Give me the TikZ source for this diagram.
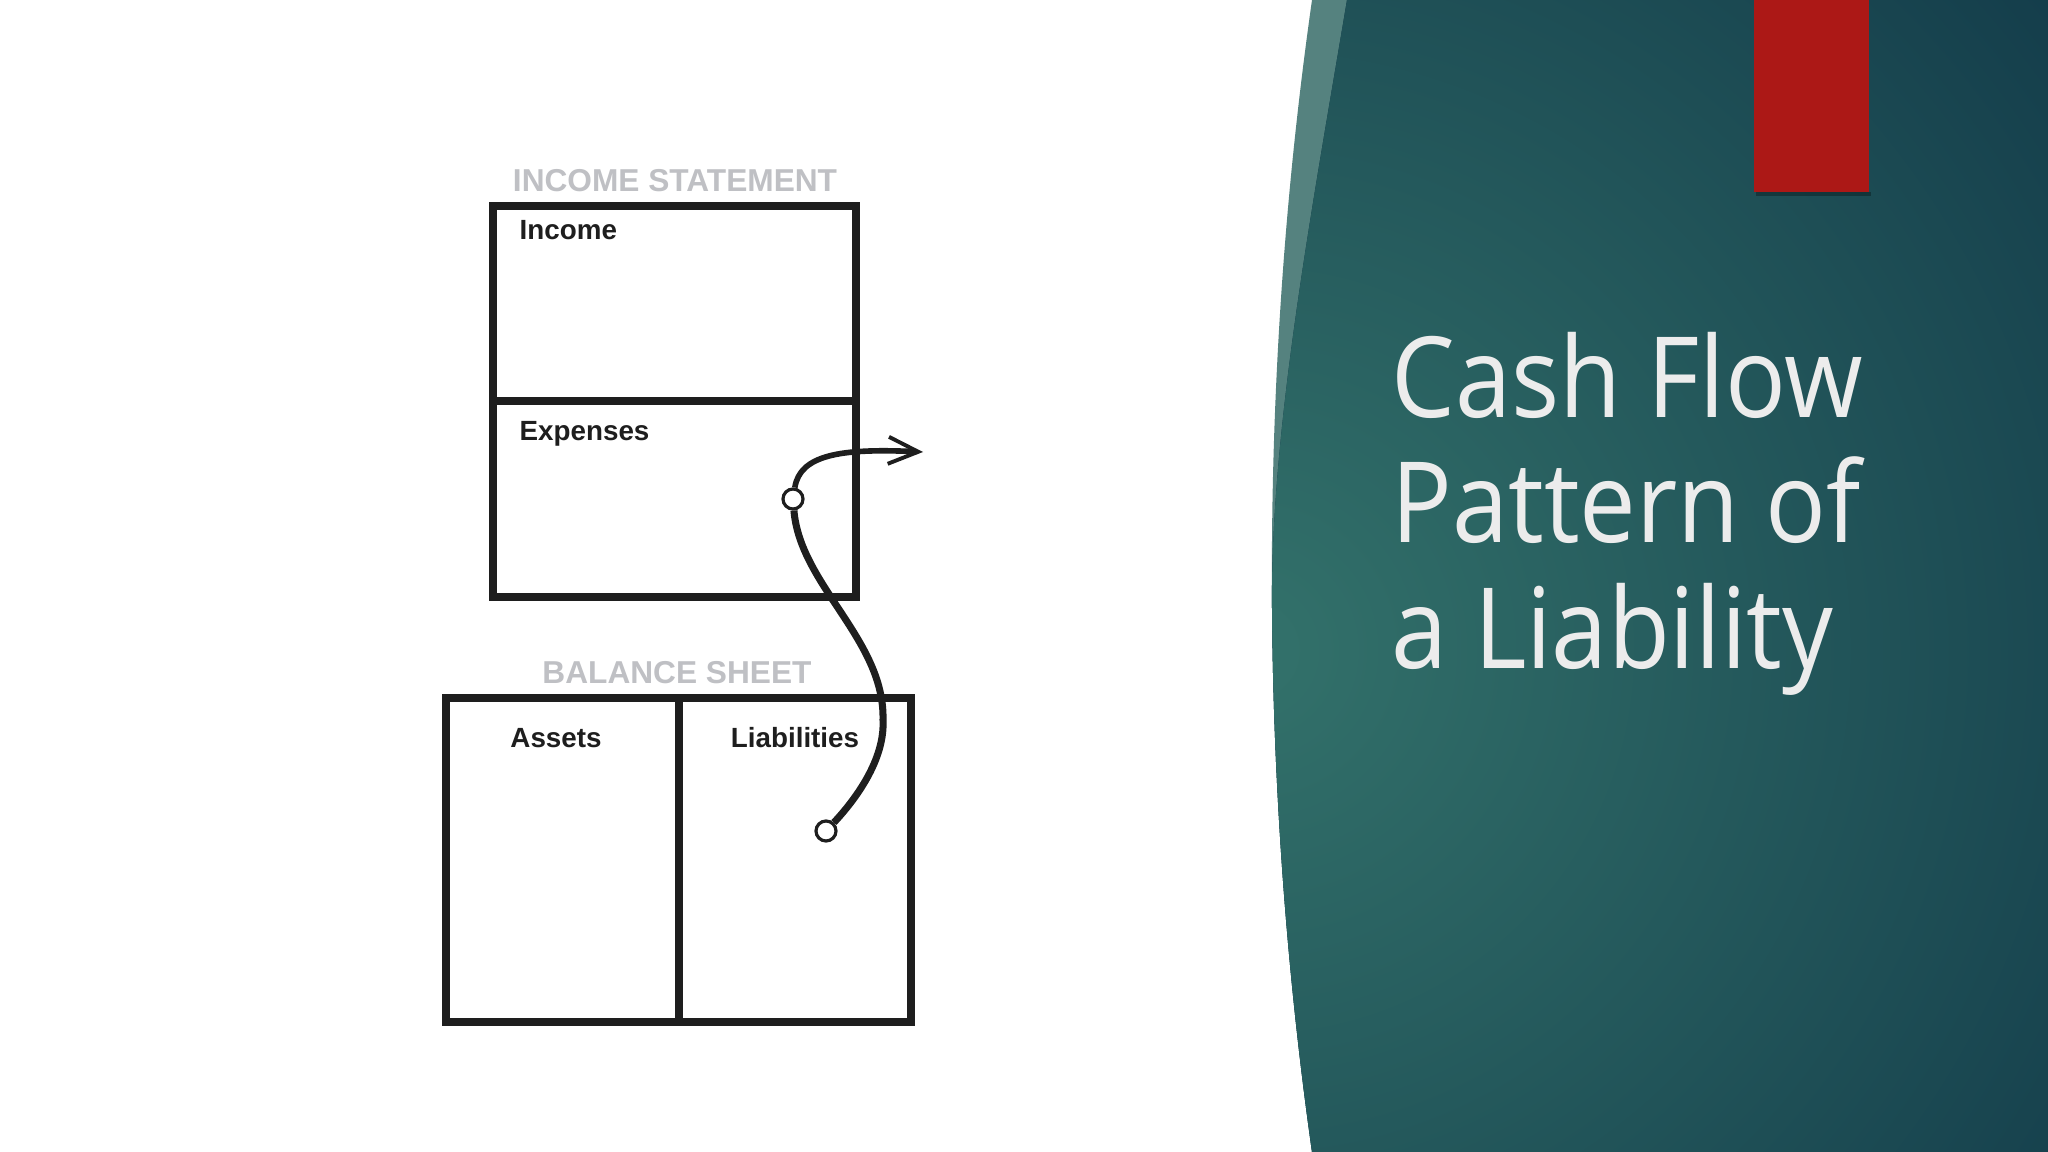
\documentclass[tikz,border=0pt]{standalone}
\usepackage{fontspec}
\usepackage{xcolor}
\usetikzlibrary{arrows.meta}
\setmainfont{Liberation Sans}
\newfontfamily\titlefont{Open Sans}

\definecolor{headgray}{HTML}{BFC0C4}
\definecolor{boxblack}{HTML}{1E1E1E}
\definecolor{panellight}{HTML}{33726B}
\definecolor{paneldark}{HTML}{0F3546}
\definecolor{panelstrip}{HTML}{55827F}
\definecolor{redbar}{HTML}{AC1816}
\definecolor{titlewhite}{HTML}{ECECEC}

\begin{document}
\begin{tikzpicture}[x=0.01cm, y=-0.01cm,
    boxline/.style={draw=boxblack, line width=2pt},
    head/.style={font=\fontsize{9}{10}\selectfont\bfseries, text=headgray, inner sep=0pt, anchor=base},
    label/.style={font=\fontsize{7.9}{9}\selectfont\bfseries, text=boxblack, inner sep=0pt},
    flow/.style={draw=boxblack, line width=1.7pt},
    dot/.style={circle, draw=boxblack, fill=white, line width=0.9pt, inner sep=0pt, minimum size=0.2cm},
    title/.style={font=\fontsize{31.9}{36}\selectfont\titlefont, text=titlewhite, inner sep=0pt, anchor=base west}]
    \useasboundingbox (0,0) rectangle (2048,1152);
    \fill[white] (0,0) rectangle (2048,1152);

    % Right panel
    \fill[panelstrip] (1312,0) .. controls (1283.5,200) and (1271,400) .. (1271.9,594)
        .. controls (1272.75,788) and (1287,976) .. (1312,1152) -- (2048,1152) -- (2048,0) -- cycle;
    \begin{scope}
        \clip (1347,0) .. controls (1310,220) and (1273,420) .. (1271.9,594)
            .. controls (1272.75,788) and (1287,976) .. (1312,1152) -- (2048,1152) -- (2048,0) -- cycle;
        \fill[paneldark] (1200,0) rectangle (2048,1152);
        \shade[inner color=panellight, outer color=paneldark] (1250,650) circle (1200);
    \end{scope}
    \fill[black, opacity=0.3] (1756,192) rectangle (1871,196);
    \fill[redbar] (1754,0) rectangle (1869,192);

    % Title
    \node[title] (title1) at (1391,418) {\scalebox{0.9}[1]{Cash Flow}};
    \node[title] (title2) at (1391,543) {\scalebox{0.9}[1]{Pattern of}};
    \node[title] (title3) at (1391,669) {\scalebox{0.9}[1]{a Liability}};

    % Income statement
    \node[head] (ishead) at (675,192) {INCOME STATEMENT};
    \draw[boxline] (493,206) rectangle (856,597);
    \draw[boxline] (493,401) -- (856,401);
    \node[label, anchor=base west] (income) at (519,240) {Income};
    \node[label, anchor=base west] (expenses) at (519,441) {Expenses};

    % Balance sheet
    \node[head] (bshead) at (677,683) {BALANCE SHEET};
    \draw[boxline] (446,698) rectangle (911,1022);
    \draw[boxline] (679,698) -- (679,1022);
    \node[label, anchor=base] (assets) at (556,747) {Assets};
    \node[label, anchor=base] (liabilities) at (795,747) {Liabilities};

    % Flow of cash
    \node[dot] (lia) at (826,831) {};
    \node[dot] (exp) at (793,499) {};
    \coordinate (out) at (923,452);
    \draw[flow, line width=2pt] (lia) .. controls (855,800) and (885,760) .. (883,720)
        .. controls (885,640) and (800,585) .. (exp);
    \draw[flow, line width=1.6pt, -{Straight Barb[length=0.3cm, width=0.27cm, line width=1.1pt]}]
        (exp) .. controls (800,455) and (840,448) .. (out);
\end{tikzpicture}
\end{document}
